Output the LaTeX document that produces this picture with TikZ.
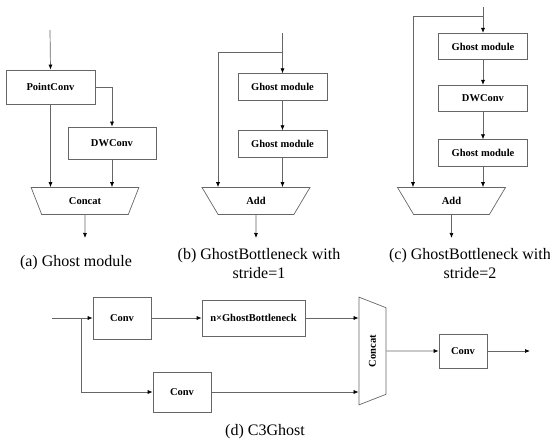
\documentclass[tikz,border=0pt]{standalone}
\usepackage{fontspec}
\setmainfont{Liberation Serif}
\usetikzlibrary{arrows.meta,shapes.geometric}

\begin{document}
\begin{tikzpicture}[x=1pt,y=-1pt,
  line/.style={draw=black!60,line width=0.7pt},
  arr/.style={line,-{Latex[length=5pt,width=4pt,color=black]}},
  box/.style={line,rectangle,inner sep=0pt,font=\fontsize{10.5}{12}\selectfont\bfseries},
  trap/.style={line,trapezium,trapezium angle=61,trapezium stretches=true,shape border rotate=180,minimum width=108pt,minimum height=27pt,inner sep=0pt,font=\fontsize{10.5}{12}\selectfont\bfseries},
  subcap/.style={align=center,font=\fontsize{16}{19}\selectfont}]
\newcommand{\gw}{89pt}
\newcommand{\gh}{26.5pt}
\useasboundingbox (0,0) rectangle (550,444);

\node [box,minimum width=89pt,minimum height=34pt] (pc) at (50.5,87) {PointConv};
\node [box,minimum width=88pt,minimum height=32pt] (adw) at (112,143) {DWConv};
\node [trap] (acat) at (85,201) {Concat};
\coordinate (ain) at (50,30);
\coordinate (aout) at (85,238);
\draw [arr] (ain) -- (pc.north);
\draw [arr] (pc.east) -| (adw.north);
\draw [arr] (pc.south) -- (pc.south |- acat.north);
\draw [arr] (adw.south) -- (adw.south |- acat.north);
\draw [arr] (acat.south) -- (aout);
\node [subcap] (acap) at (76,263) {(a) Ghost module};

\node [box,minimum width=\gw,minimum height=\gh] (bg1) at (282.5,87) {Ghost module};
\node [box,minimum width=\gw,minimum height=\gh] (bg2) at (282.5,144) {Ghost module};
\node [trap] (badd) at (256,201) {Add};
\coordinate (bin) at (282.5,33);
\coordinate (bsplit) at (282.5,52);
\coordinate (bskip) at (218,52);
\coordinate (bout) at (256,238);
\draw [arr] (bin) -- (bg1.north);
\draw [arr] (bg1.south) -- (bg2.north);
\draw [arr] (bg2.south) -- (bg2.south |- badd.north);
\draw [arr] (bsplit) -- (bskip) -- (bskip |- badd.north);
\draw [arr] (badd.south) -- (bout);
\node [subcap] (bcap) at (259,263.5) {(b) GhostBottleneck with\\stride=1};

\node [box,minimum width=\gw,minimum height=\gh] (cg1) at (483,46.5) {Ghost module};
\node [box,minimum width=\gw,minimum height=\gh] (cdw) at (483,98.5) {DWConv};
\node [box,minimum width=\gw,minimum height=\gh] (cg2) at (483,153) {Ghost module};
\node [trap] (cadd) at (451.5,201) {Add};
\coordinate (cin) at (483,7);
\coordinate (csplit) at (483,16);
\coordinate (cskip) at (413,16);
\coordinate (cout) at (451.5,238);
\draw [arr] (cin) -- (cg1.north);
\draw [arr] (cg1.south) -- (cdw.north);
\draw [arr] (cdw.south) -- (cg2.north);
\draw [arr] (cg2.south) -- (cg2.south |- cadd.north);
\draw [arr] (csplit) -- (cskip) -- (cskip |- cadd.north);
\draw [arr] (cadd.south) -- (cout);
\node [subcap] (ccap) at (470,263.5) {(c) GhostBottleneck with\\stride=2};

\node [box,minimum width=58pt,minimum height=42pt] (dc1) at (122,318) {Conv};
\node [box,minimum width=103pt,minimum height=36pt] (dgb) at (253.5,318) {n×GhostBottleneck};
\node [box,minimum width=58pt,minimum height=40pt] (dc2) at (182,392) {Conv};
\node [trap,rotate=90] (dcat) at (372.5,351) {Concat};
\node [box,minimum width=48pt,minimum height=34pt] (dc3) at (463,351) {Conv};
\coordinate (din) at (52,318);
\coordinate (dsplit) at (81,318);
\coordinate (dout) at (530,351);
\draw [arr] (din) -- (dc1.west);
\draw [arr] (dsplit) |- (dc2.west);
\draw [arr] (dc1.east) -- (dgb.west);
\draw [arr] (dgb.east) -- (dgb.east -| dcat.north);
\draw [arr] (dc2.east) -- (dc2.east -| dcat.north);
\draw [arr] (dcat.south) -- (dc3.west);
\draw [arr] (dc3.east) -- (dout);
\node [subcap] (dcap) at (265,432) {(d) C3Ghost};
\end{tikzpicture}
\end{document}
